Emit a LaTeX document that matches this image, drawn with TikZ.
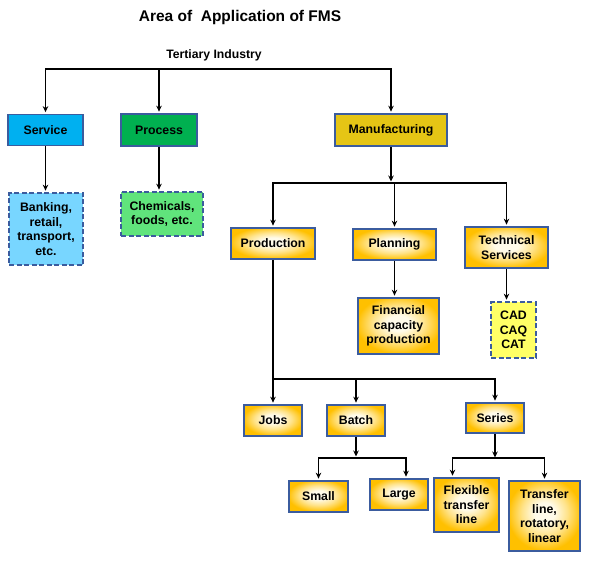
\documentclass[tikz,border=0pt]{standalone}
\usepackage{fontspec}
\setmainfont{Liberation Sans}
\usepackage{xcolor}
\usetikzlibrary{positioning,arrows.meta}
\definecolor{edgeblue}{HTML}{3B5C9E}
\definecolor{servcol}{HTML}{00B0F0}
\definecolor{proccol}{HTML}{00B050}
\definecolor{manucol}{HTML}{E5C515}
\definecolor{bankcol}{HTML}{78D6FF}
\definecolor{chemcol}{HTML}{60E47C}
\definecolor{cadcol}{HTML}{FFFF66}
\definecolor{goldout}{HTML}{FFC000}
\definecolor{goldmid}{HTML}{FFE38A}
\definecolor{goldin}{HTML}{FFFBEA}
\pgfdeclareradialshading{goldshade}{\pgfpoint{0bp}{3bp}}{color(0bp)=(goldin); color(7bp)=(goldin); color(16bp)=(goldmid); color(26bp)=(goldout); color(50bp)=(goldout)}

\begin{document}
\begin{tikzpicture}[->,>={Stealth[length=6pt,width=5.5pt]},x=1pt,y=-1pt,line width=1.3pt,shorten >=1.5pt]
    \tikzstyle{box}=[rectangle,draw=edgeblue,line width=1.7pt,align=center,inner sep=2pt,
        font=\bfseries\fontsize{12.3}{14.5}\selectfont]
    \tikzstyle{goldbox}=[box,shading=goldshade]
    \tikzstyle{dashbox}=[box,dash pattern=on 5pt off 2.5pt]

    \useasboundingbox (0,0) rectangle (589,571);

    \node[font=\bfseries\fontsize{15.5}{18}\selectfont] (title) at (240,17) {Area of~ Application of FMS};
    \node[font=\bfseries\fontsize{12.2}{14}\selectfont] (tert) at (214,55) {Tertiary Industry};

    \node[box,fill=servcol,minimum width=75,minimum height=31] (serv) at (45.5,130) {Service};
    \node[box,fill=proccol,minimum width=76,minimum height=32] (proc) at (159,130) {Process};
    \node[box,fill=manucol,minimum width=112,minimum height=32] (manu) at (391,130) {Manufacturing};

    \node[dashbox,fill=bankcol,minimum width=74,minimum height=72] (bank) at (46,229) {Banking,\\retail,\\transport,\\etc.};
    \node[dashbox,fill=chemcol,minimum width=82,minimum height=44] (chem) at (162,214) {Chemicals,\\foods, etc.};

    \node[goldbox,minimum width=84,minimum height=31] (prod) at (273,243.5) {Production};
    \node[goldbox,minimum width=83,minimum height=31] (plan) at (394.5,244.5) {Planning};
    \node[goldbox,minimum width=83,minimum height=41] (tech) at (506.5,247.5) {Technical\\Services};
    \node[goldbox,minimum width=81,minimum height=56] (fina) at (398.5,326) {Financial\\capacity\\production};
    \node[dashbox,fill=cadcol,minimum width=45,minimum height=56] (cad) at (513.5,330) {CAD\\CAQ\\CAT};

    \node[goldbox,minimum width=58,minimum height=31] (jobs) at (273,420.5) {Jobs};
    \node[goldbox,minimum width=58,minimum height=31] (batc) at (356,420.5) {Batch};
    \node[goldbox,minimum width=58,minimum height=30] (seri) at (495,418) {Series};
    \node[goldbox,minimum width=59,minimum height=31] (smal) at (318.5,496.5) {Small};
    \node[goldbox,minimum width=58,minimum height=31] (larg) at (399,494.5) {Large};
    \node[goldbox,minimum width=65,minimum height=54] (flex) at (466.5,505) {Flexible\\transfer\\line};
    \node[goldbox,minimum width=71,minimum height=70] (tran) at (544.5,516) {Transfer\\line,\\rotatory,\\linear};

    \coordinate (l1) at (0,69);
    \coordinate (l2) at (0,183);
    \coordinate (l3) at (0,379);
    \coordinate (l4) at (0,458);

    \draw[<->,shorten <=1.5pt] (serv.north) |- (manu.north |- l1) -- (manu.north);
    \draw (proc.north |- l1) -- (proc.north);

    \draw (serv.south) -- (serv.south |- bank.north);
    \draw (proc.south) -- (proc.south |- chem.north);

    \draw (manu.south) -- (manu.south |- l2);
    \draw[<->,shorten <=1.5pt] (prod.north) |- (tech.north |- l2) -- (tech.north);
    \draw (plan.north |- l2) -- (plan.north);
    \draw (plan.south) -- (plan.south |- fina.north);
    \draw (tech.south) -- (tech.south |- cad.north);

    \draw (prod.south) |- (seri.north |- l3) -- (seri.north);
    \draw (jobs.north |- l3) -- (jobs.north);
    \draw (batc.north |- l3) -- (batc.north);

    \draw (batc.south) -- (batc.south |- l4);
    \draw[<->,shorten <=1.5pt] (smal.north) |- ([xshift=7pt]larg.north |- l4) -- ([xshift=7pt]larg.north);
    \draw (seri.south) -- ([yshift=-1pt]seri.south |- l4);
    \draw[<->,shorten <=1.5pt] ([xshift=-14pt]flex.north) |- (tran.north |- l4) -- (tran.north);
\end{tikzpicture}
\end{document}
